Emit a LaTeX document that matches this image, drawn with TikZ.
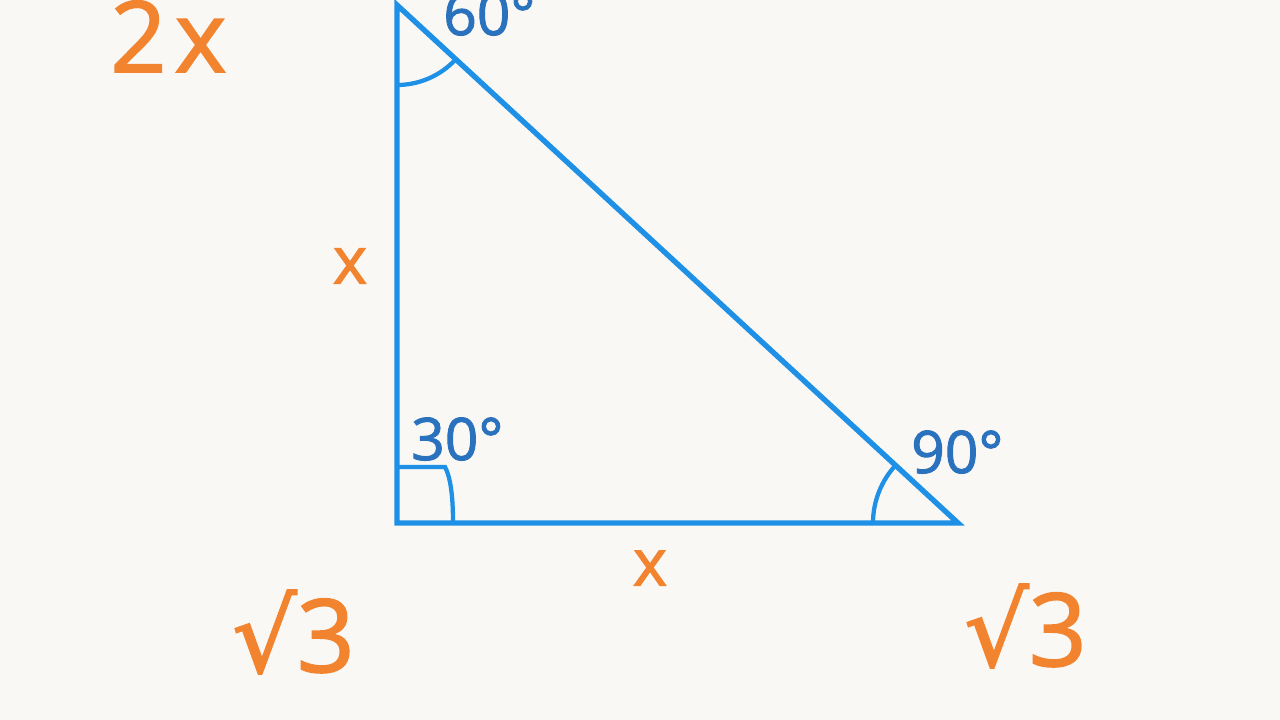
\documentclass[tikz,border=0pt]{standalone}
\usepackage{fontspec}
\setmainfont{Open Sans}[FakeBold=1.6]
\newfontfamily\radfont{DejaVu Sans}[FakeBold=1.6]
\definecolor{paper}{HTML}{FAF8F4}
\definecolor{triblue}{HTML}{1E90E6}
\definecolor{angblue}{HTML}{2A72BE}
\definecolor{sideorange}{HTML}{F2832F}
\begin{document}
\begin{tikzpicture}[
        x=0.75pt, y=-0.75pt,
        side/.style={draw=triblue, line width=4pt, line join=miter},
        anglemark/.style={draw=triblue, line width=3.2pt},
        angle/.style={text=angblue, font=\fontsize{44}{44}\selectfont, inner sep=0pt, anchor=base west},
        len/.style={text=sideorange, font=\fontsize{49}{49}\selectfont, inner sep=0pt},
        big/.style={text=sideorange, font=\fontsize{76}{76}\selectfont, inner sep=0pt, anchor=base west},
    ]

    \useasboundingbox (0,0) rectangle (1280,720);
    \fill[paper] (0,0) rectangle (1280,720);

    \coordinate (top) at (397,5);
    \coordinate (bl) at (397,523);
    \coordinate (br) at (958,523);

    \draw[side] (top) -- (bl) -- (br) -- cycle;

    % angle marks
    \draw[anglemark] (top) ++(90:80) arc[start angle=90, end angle=42.7, radius=80];
    \draw[anglemark] (br) ++(180:85) arc[start angle=180, end angle=222.7, radius=85];
    \draw[anglemark] (397,467) -- (445,467) .. controls (452,480) and (453,505) .. (453,523);

    \node[angle](a60) at (443,35) {60°};
    \node[angle](a30) at (411,460) {30°};
    \node[angle](a90) at (911,473) {90°};

    \node[len](xleft) at (350,266) {x};
    \node[len](xbot) at (650,568) {x};

    \node[big, font=\fontsize{74}{74}\selectfont](twox) at (110,72) {2\kern6pt x};
    \node[big](rootl) at (232,672) {{\radfont √}3};
    \node[big](rootr) at (964,666) {{\radfont √}3};
\end{tikzpicture}
\end{document}
